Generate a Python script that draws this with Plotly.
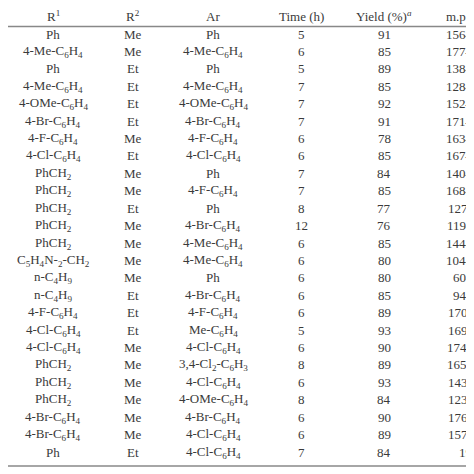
import plotly.graph_objects as go

headers = ["R<sup>1</sup>", "R<sup>2</sup>", "Ar", "Time (h)", "Yield (%)<sup><i>a</i></sup>", "m.p (°C)"]
r1 = ["Ph", "4-Me-C<sub>6</sub>H<sub>4</sub>", "Ph", "4-Me-C<sub>6</sub>H<sub>4</sub>", "4-OMe-C<sub>6</sub>H<sub>4</sub>",
      "4-Br-C<sub>6</sub>H<sub>4</sub>", "4-F-C<sub>6</sub>H<sub>4</sub>", "4-Cl-C<sub>6</sub>H<sub>4</sub>",
      "PhCH<sub>2</sub>", "PhCH<sub>2</sub>", "PhCH<sub>2</sub>", "PhCH<sub>2</sub>", "PhCH<sub>2</sub>",
      "C<sub>5</sub>H<sub>4</sub>N-<sub>2</sub>-CH<sub>2</sub>", "n-C<sub>4</sub>H<sub>9</sub>", "n-C<sub>4</sub>H<sub>9</sub>",
      "4-F-C<sub>6</sub>H<sub>4</sub>", "4-Cl-C<sub>6</sub>H<sub>4</sub>", "4-Cl-C<sub>6</sub>H<sub>4</sub>",
      "PhCH<sub>2</sub>", "PhCH<sub>2</sub>", "PhCH<sub>2</sub>", "4-Br-C<sub>6</sub>H<sub>4</sub>",
      "4-Br-C<sub>6</sub>H<sub>4</sub>", "Ph"]
r2 = ["Me", "Me", "Et", "Et", "Et", "Et", "Me", "Et", "Me", "Me", "Et", "Me", "Me", "Me", "Me", "Et",
      "Et", "Et", "Me", "Me", "Me", "Me", "Me", "Me", "Et"]
ar = ["Ph", "4-Me-C<sub>6</sub>H<sub>4</sub>", "Ph", "4-Me-C<sub>6</sub>H<sub>4</sub>", "4-OMe-C<sub>6</sub>H<sub>4</sub>",
      "4-Br-C<sub>6</sub>H<sub>4</sub>", "4-F-C<sub>6</sub>H<sub>4</sub>", "4-Cl-C<sub>6</sub>H<sub>4</sub>", "Ph",
      "4-F-C<sub>6</sub>H<sub>4</sub>", "Ph", "4-Br-C<sub>6</sub>H<sub>4</sub>", "4-Me-C<sub>6</sub>H<sub>4</sub>",
      "4-Me-C<sub>6</sub>H<sub>4</sub>", "Ph", "4-Br-C<sub>6</sub>H<sub>4</sub>", "4-F-C<sub>6</sub>H<sub>4</sub>",
      "Me-C<sub>6</sub>H<sub>4</sub>", "4-Cl-C<sub>6</sub>H<sub>4</sub>", "3,4-Cl<sub>2</sub>-C<sub>6</sub>H<sub>3</sub>",
      "4-Cl-C<sub>6</sub>H<sub>4</sub>", "4-OMe-C<sub>6</sub>H<sub>4</sub>", "4-Br-C<sub>6</sub>H<sub>4</sub>",
      "4-Cl-C<sub>6</sub>H<sub>4</sub>", "4-Cl-C<sub>6</sub>H<sub>4</sub>"]
time_h = [5, 6, 5, 7, 7, 7, 6, 6, 7, 7, 8, 12, 6, 6, 6, 6, 6, 5, 6, 8, 6, 8, 6, 6, 7]
yields = [91, 85, 89, 85, 92, 91, 78, 85, 84, 85, 77, 76, 85, 80, 80, 85, 89, 93, 90, 89, 93, 84, 90, 89, 84]
mp = ["156–158", "177–179", "138–140", "128–130", "152–154", "171–173", "163–165", "167–169", "140–142",
      "168–170", "127-129", "119–121", "144–146", "104–106", "60–62", "94–96", "170-172", "169-171",
      "174-176", "165-167", "143-145", "123-125", "176-178", "157-159", "199"]

W = H = 474
col_x = [45, 125, 205, 293, 376, 461]
font = dict(family="Liberation Serif, Times New Roman, serif", size=13, color="#3a3a3a")

fig = go.Figure()
anns = []
def add(xpx, ypx, text):
    anns.append(dict(x=xpx / W, y=1 - ypx / H, xref="paper", yref="paper", text=text,
                     showarrow=False, xanchor="center", yanchor="middle", font=font))

for cx, h in zip(col_x, headers):
    add(cx, 8, h)
cols = [r1, r2, ar, [str(t) for t in time_h], [str(v) for v in yields], mp]
for i in range(len(r1)):
    y = 26 + i * 17.42
    for cx, col in zip(col_x, cols):
        add(cx, y, col[i])

shapes = [
    dict(type="line", xref="paper", yref="paper", x0=0, x1=1, y0=1 - 18.5 / H, y1=1 - 18.5 / H,
         line=dict(color="#888888", width=1.5)),
    dict(type="line", xref="paper", yref="paper", x0=0, x1=1, y0=1 - 458 / H, y1=1 - 458 / H,
         line=dict(color="#888888", width=1.5)),
]
fig.update_layout(width=W, height=H, margin=dict(l=0, r=0, t=0, b=0),
                  paper_bgcolor="white", plot_bgcolor="white",
                  xaxis=dict(visible=False), yaxis=dict(visible=False),
                  annotations=anns, shapes=shapes, showlegend=False)
fig.write_html("out.html", config={"displayModeBar": False})
